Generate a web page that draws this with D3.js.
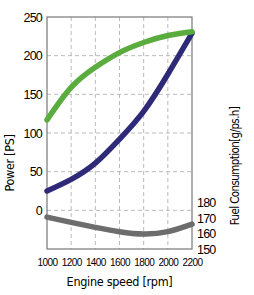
<!DOCTYPE html>
<html>
<head>
<meta charset="utf-8">
<script src="https://cdn.jsdelivr.net/npm/d3@7"></script>
<style>
  body { margin: 0; background: #fff; }
  text { font-family: "DejaVu Sans Condensed", "DejaVu Sans", sans-serif; fill: #000; }
</style>
</head>
<body>
<div id="chart"></div>
<script>
var width = 254,
    height = 295;

var rpm = [1000, 1200, 1400, 1600, 1800, 2000, 2200];
var power = [117, 159, 185, 204, 217, 226, 231];
var torque = [25, 40, 61, 92, 128, 176, 229];
var fuel = [170.6, 167.2, 164, 161.2, 159.7, 161.2, 166.1];

var xTicks = [1000, 1200, 1400, 1600, 1800, 2000, 2200];
var leftTicks = [0, 50, 100, 150, 200, 250];
var rightTicks = [150, 160, 170, 180];

var margin = {left: 47, right: 62, top: 17, bottom: 46};

var x = d3.scaleLinear().domain([1000, 2200]).range([margin.left, width - margin.right]);
var yL = d3.scaleLinear().domain([-50, 250]).range([height - margin.bottom, margin.top]);
var yR = d3.scaleLinear().domain([150, 300]).range([height - margin.bottom, margin.top]);

var svg = d3.select("#chart").append("svg")
  .attr("width", width)
  .attr("height", height);

// grid
svg.append("g").selectAll("line")
  .data(xTicks.slice(1, -1))
  .enter().append("line")
  .attr("x1", function(d) { return x(d); })
  .attr("x2", function(d) { return x(d); })
  .attr("y1", margin.top)
  .attr("y2", height - margin.bottom)
  .attr("stroke", "#bbb")
  .attr("stroke-dasharray", "4,3");

svg.append("g").selectAll("line")
  .data(leftTicks.slice(0, -1))
  .enter().append("line")
  .attr("x1", margin.left)
  .attr("x2", width - margin.right)
  .attr("y1", function(d) { return yL(d); })
  .attr("y2", function(d) { return yL(d); })
  .attr("stroke", "#bbb")
  .attr("stroke-dasharray", "4,3");

svg.append("rect")
  .attr("x", margin.left)
  .attr("y", margin.top)
  .attr("width", width - margin.left - margin.right)
  .attr("height", height - margin.top - margin.bottom)
  .attr("fill", "none")
  .attr("stroke", "#777")
  .attr("stroke-width", 1.2);

// axes (labels only)
var gx = svg.append("g")
  .attr("transform", "translate(0," + (height - margin.bottom) + ")")
  .call(d3.axisBottom(x).tickValues(xTicks).tickSize(0).tickPadding(10).tickFormat(d3.format("d")));
gx.select(".domain").remove();
gx.selectAll("text").attr("font-size", 10).attr("letter-spacing", -0.6);

var gl = svg.append("g")
  .attr("transform", "translate(" + margin.left + ",0)")
  .call(d3.axisLeft(yL).tickValues(leftTicks).tickSize(0).tickPadding(5));
gl.select(".domain").remove();
gl.selectAll("text").attr("font-size", 12.5).attr("letter-spacing", -0.8);

var gr = svg.append("g")
  .attr("transform", "translate(" + (width - margin.right) + ",0)")
  .call(d3.axisRight(yR).tickValues(rightTicks).tickSize(0).tickPadding(5));
gr.select(".domain").remove();
gr.selectAll("text").attr("font-size", 12.5).attr("letter-spacing", -0.8);

svg.selectAll(".tick text").style("font-family", "inherit");

// lines
var lineL = d3.line()
  .x(function(d, i) { return x(rpm[i]); })
  .y(function(d) { return yL(d); })
  .curve(d3.curveNatural);
var lineR = d3.line()
  .x(function(d, i) { return x(rpm[i]); })
  .y(function(d) { return yR(d); })
  .curve(d3.curveNatural);

svg.append("path").attr("d", lineR(fuel))
  .attr("fill", "none").attr("stroke", "#6d6d6d").attr("stroke-width", 5.5).attr("stroke-linecap", "round");
svg.append("path").attr("d", lineL(torque))
  .attr("fill", "none").attr("stroke", "#2f2a78").attr("stroke-width", 5.5).attr("stroke-linecap", "round");
svg.append("path").attr("d", lineL(power))
  .attr("fill", "none").attr("stroke", "#5aac3e").attr("stroke-width", 5.5).attr("stroke-linecap", "round");

// titles
svg.append("text")
  .attr("x", (margin.left + width - margin.right) / 2)
  .attr("y", 286)
  .attr("text-anchor", "middle")
  .attr("font-size", 12.5)
  .attr("letter-spacing", -0.3)
  .text("Engine speed [rpm]");

svg.append("text")
  .attr("transform", "translate(14,163) rotate(-90)")
  .attr("text-anchor", "middle")
  .attr("font-size", 12.5)
  .attr("letter-spacing", -0.3)
  .text("Power [PS]");

svg.append("text")
  .attr("transform", "translate(239,166) rotate(-90)")
  .attr("text-anchor", "middle")
  .attr("font-size", 11.5)
  .attr("letter-spacing", -0.6)
  .text("Fuel Consumption[g/ps.h]");
</script>
</body>
</html>
